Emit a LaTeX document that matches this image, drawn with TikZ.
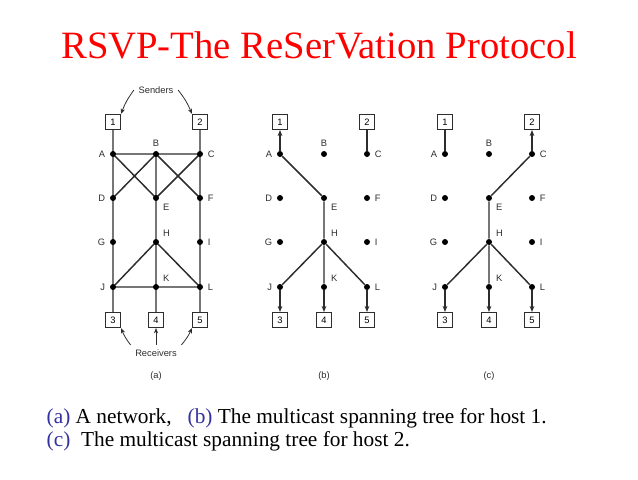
\documentclass[tikz,border=0pt]{standalone}
\usepackage{fontspec}
\setmainfont{Liberation Serif}
\newfontfamily\lblfont{Liberation Sans}
\usetikzlibrary{arrows.meta}
\definecolor{capblue}{RGB}{50,50,160}
\definecolor{ink}{RGB}{45,45,45}
\tikzset{
  x=0.75pt,y=-0.75pt,
  dot/.style={circle,fill=black,inner sep=0pt,minimum size=4.5pt},
  hbox/.style={draw=ink,line width=0.6pt,minimum size=11.5pt,inner sep=0pt,font=\lblfont\fontsize{7}{7}\selectfont,fill=white},
  lbl/.style={font=\lblfont\fontsize{7}{7}\selectfont,text=ink},
  edge/.style={draw=ink,line width=1.1pt},
  arr/.style={draw=ink,line width=1.1pt,-{Stealth[length=4.5pt,width=3.6pt]}},
  thin/.style={draw=ink,line width=0.6pt,-{Stealth[length=4pt,width=3.2pt]}}
}
\newcommand{\panel}[4]{% prefix, x1, x2, x3
  \node[hbox] (#1s1) at (#2,122) {1};
  \node[hbox] (#1s2) at (#4,122) {2};
  \node[hbox] (#1r3) at (#2,320) {3};
  \node[hbox] (#1r4) at (#3,320) {4};
  \node[hbox] (#1r5) at (#4,320) {5};
  \node[dot,label={[lbl]left:A}] (#1A) at (#2,154) {};
  \node[dot,label={[lbl]above:B}] (#1B) at (#3,154) {};
  \node[dot,label={[lbl]right:C}] (#1C) at (#4,154) {};
  \node[dot,label={[lbl]left:D}] (#1D) at (#2,198) {};
  \node[dot,label={[lbl,yshift=1pt]below right:E}] (#1E) at (#3,198) {};
  \node[dot,label={[lbl]right:F}] (#1F) at (#4,198) {};
  \node[dot,label={[lbl]left:G}] (#1G) at (#2,242) {};
  \node[dot,label={[lbl,yshift=-1pt]above right:H}] (#1H) at (#3,242) {};
  \node[dot,label={[lbl]right:I}] (#1I) at (#4,242) {};
  \node[dot,label={[lbl]left:J}] (#1J) at (#2,287) {};
  \node[dot,label={[lbl,yshift=-1pt]above right:K}] (#1K) at (#3,287) {};
  \node[dot,label={[lbl]right:L}] (#1L) at (#4,287) {};
}
\begin{document}
\begin{tikzpicture}
\useasboundingbox (0,0) rectangle (638,479);
\node[text=red,font=\fontsize{29}{32}\selectfont] (title) at (319,45) {RSVP-The ReSerVation Protocol};
% panel a
\path[edge] (113,122) -- (113,320) (200,122) -- (200,320) (156,154) -- (156,320)
  (113,154) -- (200,154) (113,154) -- (156,198) (156,154) -- (113,198)
  (156,154) -- (200,198) (200,154) -- (156,198)
  (156,242) -- (113,287) (156,242) -- (200,287) (113,287) -- (200,287);
\panel{a}{113}{156}{200}
\node[lbl] (snd) at (156,90) {Senders};
\node[lbl] (rcv) at (156,353) {Receivers};
\node[lbl] (capa) at (156,376) {(a)};
\draw[thin] (snd.west) to[bend right=8] (as1.north east);
\draw[thin] (snd.east) to[bend left=8] (as2.north west);
\draw[thin] (rcv.north west) to[bend left=8] (ar3.south east);
\draw[thin] (rcv.north) -- (ar4.south);
\draw[thin] (rcv.north east) to[bend right=8] (ar5.south west);
% panel b
\panel{b}{280}{324}{367}
\draw[arr] (bA) -- (bs1);
\draw[edge] (bs2) -- (bC);
\draw[edge] (bA) -- (bE) -- (bH) -- (bJ) (bH) -- (bK) (bH) -- (bL);
\draw[arr] (bJ) -- (br3); \draw[arr] (bK) -- (br4); \draw[arr] (bL) -- (br5);
\node[lbl] (capb) at (324,376) {(b)};
% panel c
\panel{c}{445}{489}{532}
\draw[edge] (cs1) -- (cA);
\draw[arr] (cC) -- (cs2);
\draw[edge] (cC) -- (cE) -- (cH) -- (cJ) (cH) -- (cK) (cH) -- (cL);
\draw[arr] (cJ) -- (cr3); \draw[arr] (cK) -- (cr4); \draw[arr] (cL) -- (cr5);
\node[lbl] (capc) at (489,376) {(c)};
% caption
\node[anchor=west,font=\fontsize{16}{18}\selectfont] (cap1) at (42,418) {\textcolor{capblue}{(a)} A network,\ \ \ \textcolor{capblue}{(b)} The multicast spanning tree for host 1.};
\node[anchor=west,font=\fontsize{16}{18}\selectfont] (cap2) at (42,441) {\textcolor{capblue}{(c)}\ \ The multicast spanning tree for host 2.};
\end{tikzpicture}
\end{document}
